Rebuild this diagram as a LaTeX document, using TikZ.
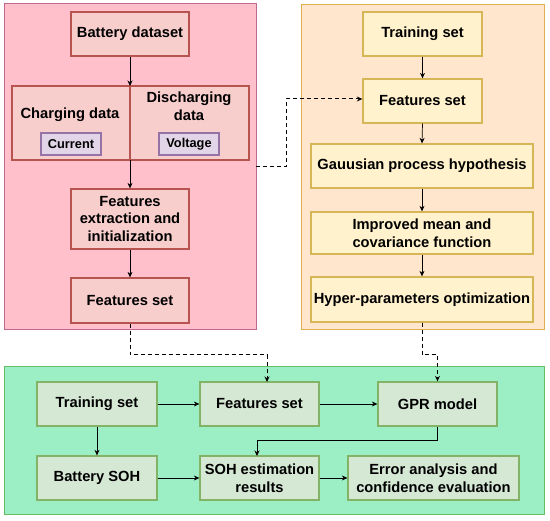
\documentclass[tikz,border=0pt]{standalone}
\usepackage{fontspec}
\setmainfont{Liberation Sans}
\usetikzlibrary{arrows.meta}
\definecolor{pinkbg}{HTML}{FFC0CB}
\definecolor{pinkbd}{HTML}{C0698F}
\definecolor{redfill}{HTML}{F8CECC}
\definecolor{redbd}{HTML}{B85450}
\definecolor{orbg}{HTML}{FFE6CC}
\definecolor{orbd}{HTML}{E0B050}
\definecolor{yelfill}{HTML}{FFF2CC}
\definecolor{yelbd}{HTML}{D6B656}
\definecolor{grbg}{HTML}{9CEFC5}
\definecolor{grbd}{HTML}{66BB66}
\definecolor{grfill}{HTML}{D5E8D4}
\definecolor{grbdi}{HTML}{82B366}
\definecolor{purfill}{HTML}{E1D5E7}
\definecolor{purbd}{HTML}{9673A6}
\tikzset{
  box/.style={draw, line width=1.3pt, rectangle, inner sep=0pt, align=center,
    font=\fontsize{14.7}{17.7}\selectfont\bfseries},
  pbox/.style={box, fill=redfill, draw=redbd},
  ybox/.style={box, fill=yelfill, draw=yelbd},
  gbox/.style={box, fill=grfill, draw=grbdi},
  vbox/.style={box, fill=purfill, draw=purbd, line width=1.6pt, font=\fontsize{12.8}{14}\selectfont\bfseries},
  outer/.style={draw, line width=1pt, inner sep=0pt},
  lbl/.style={align=center, inner sep=0pt, font=\fontsize{14.7}{17.7}\selectfont\bfseries},
  arr/.style={-{Stealth[length=5.5pt,width=5pt]}, line width=0.7pt},
  darr/.style={arr, dashed, dash pattern=on 4pt off 3pt, line width=1pt},
}
\begin{document}
\begin{tikzpicture}[x=1pt,y=-1pt]
\useasboundingbox (0,0) rectangle (550,521);
% outer panels
\node[outer, fill=pinkbg, draw=pinkbd, minimum width=252, minimum height=326] (pink) at (130,167) {};
\node[outer, fill=orbg, draw=orbd, minimum width=243, minimum height=325] (orange) at (422.5,167.5) {};
\node[outer, fill=grbg, draw=grbd, minimum width=540, minimum height=148] (green) at (274,441) {};
% pink panel
\node[pbox, minimum width=118, minimum height=44] (bd) at (130,34) {Battery dataset};
\node[pbox, minimum width=118, minimum height=74] (chg) at (71,123) {};
\node[pbox, minimum width=119, minimum height=74] (dis) at (189.5,123) {};
\node[lbl] (chgt) at (70,115) {Charging data};
\node[lbl] (dist) at (189,106) {Discharging\\data};
\node[vbox, minimum width=60, minimum height=22] (cur) at (71,144) {Current};
\node[vbox, minimum width=60, minimum height=22] (vol) at (189,144) {Voltage};
\node[pbox, minimum width=118, minimum height=60] (fe) at (130,219) {Features\\extraction and\\initialization};
\node[pbox, minimum width=118, minimum height=45] (fsp) at (130,300.5) {Features set};
\coordinate (gtop) at (130,86);
\coordinate (gbot) at (130,160);
\draw[arr] (bd.south) -- (gtop);
\draw[arr] (gbot) -- (fe.north);
\draw[arr] (fe.south) -- (fsp.north);
% orange panel
\node[ybox, minimum width=119, minimum height=44] (ts) at (422.5,34) {Training set};
\node[ybox, minimum width=119, minimum height=44] (fso) at (422.5,101) {Features set};
\node[ybox, minimum width=222, minimum height=44] (gph) at (422,166) {Gauusian process hypothesis};
\node[ybox, minimum width=222, minimum height=42] (imc) at (422,233) {Improved mean and\\covariance function};
\node[ybox, minimum width=222, minimum height=45] (hpo) at (422,299.5) {Hyper-parameters optimization};
\draw[arr] (ts.south) -- (fso.north);
\draw[arr] (fso.south) -- (gph.north);
\draw[arr] (gph.south) -- (imc.north);
\draw[arr] (imc.south) -- (hpo.north);
% green panel
\node[gbox, minimum width=120, minimum height=44] (tsg) at (97,404) {Training set};
\node[gbox, minimum width=119, minimum height=44] (fsg) at (259.5,404) {Features set};
\node[gbox, minimum width=119, minimum height=44] (gpr) at (437.5,404) {GPR model};
\node[gbox, minimum width=120, minimum height=44] (soh) at (97,478) {Battery SOH};
\node[gbox, minimum width=119, minimum height=44] (sohe) at (259.5,478) {SOH estimation\\results};
\node[gbox, minimum width=171, minimum height=44] (err) at (433.5,478) {Error analysis and\\confidence evaluation};
\draw[arr] (tsg.east) -- (fsg.west);
\draw[arr] (fsg.east) -- (gpr.west);
\draw[arr] (tsg.south) -- (soh.north);
\draw[arr] (soh.east) -- (sohe.west);
\draw[arr] (sohe.east) -- (err.west);
\draw[arr] (gpr.south) -- (437.5,440) -- (257,440) -- (257,456);
% dashed connectors
\coordinate (d1a) at (256,167);
\draw[darr] (d1a) -- (286,167) -- (286,99) -- (fso.west |- 0,99);
\draw[darr] (fsp.south) -- (130,355) -- (267,355) -- (267,382);
\draw[darr] (hpo.south) -- (422,355) -- (437.5,355) -- (gpr.north);
\end{tikzpicture}
\end{document}
